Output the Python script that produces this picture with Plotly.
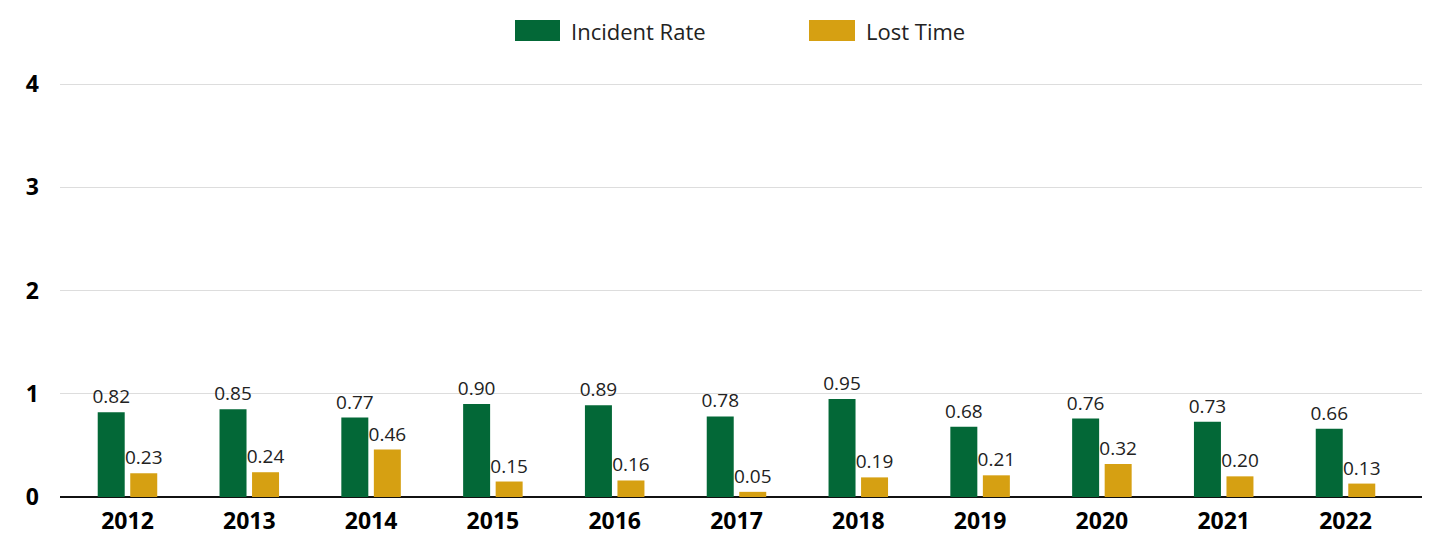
import plotly.graph_objects as go

years = ["2012", "2013", "2014", "2015", "2016", "2017", "2018", "2019", "2020", "2021", "2022"]
incident_rate = [0.82, 0.85, 0.77, 0.90, 0.89, 0.78, 0.95, 0.68, 0.76, 0.73, 0.66]
lost_time = [0.23, 0.24, 0.46, 0.15, 0.16, 0.05, 0.19, 0.21, 0.32, 0.20, 0.13]
series_names = ["Incident Rate", "Lost Time"]
colors = ["#036837", "#D6A012"]

W, H = 1440, 546
OFF = 8  # page body offset
ml, mr, mt, mb = 52, 26, 73, 57

fig = go.Figure()
for name, vals, col in zip(series_names, [incident_rate, lost_time], colors):
    fig.add_trace(go.Bar(
        x=years, y=vals, name=name, marker_color=col,
        marker_line_width=0,
        text=[f"{v:.2f}" for v in vals], textposition="outside",
        constraintext="none",
        textfont=dict(family="Open Sans", size=19, color="#222222"),
        cliponaxis=False, showlegend=False,
    ))

# custom legend (swatches + labels) in pixel-derived paper coords
def px_x(p):
    return (p - OFF - ml) / (W - ml - mr)

def px_y(p):
    return 1 - (p - OFF - mt) / (H - mt - mb)

legend_items = [(515, 560, 569), (809, 855, 864)]
for (x0, x1, tx), name, col in zip(legend_items, series_names, colors):
    fig.add_shape(type="rect", xref="paper", yref="paper",
                  x0=px_x(x0), x1=px_x(x1), y0=px_y(41), y1=px_y(20),
                  fillcolor=col, line_width=0)
    fig.add_annotation(xref="paper", yref="paper", x=px_x(tx), y=px_y(31),
                       text=name, showarrow=False, xanchor="left", yanchor="middle",
                       font=dict(family="Open Sans", size=22, color="#222222"))

fig.update_layout(
    width=W, height=H,
    margin=dict(l=ml, r=mr, t=mt, b=mb),
    paper_bgcolor="white", plot_bgcolor="white",
    barmode="group", bargap=0.466, bargroupgap=0.17,
    font=dict(family="Open Sans", color="#000000"),
    xaxis=dict(showgrid=False, ticks="", showline=False,
               range=[-0.554, 10.628], ticklabelstandoff=8,
               tickfont=dict(family="Open Sans", size=23, color="#000000", weight="bold")),
    yaxis=dict(range=[0, 4.03], tickvals=[0, 1, 2, 3, 4], showgrid=True,
               gridcolor="#dddddd", gridwidth=1,
               zeroline=True, zerolinecolor="#111111", zerolinewidth=2,
               ticklabelstandoff=20,
               tickfont=dict(family="Open Sans", size=23, color="#000000", weight="bold")),
)

fig.write_html("out.html")
